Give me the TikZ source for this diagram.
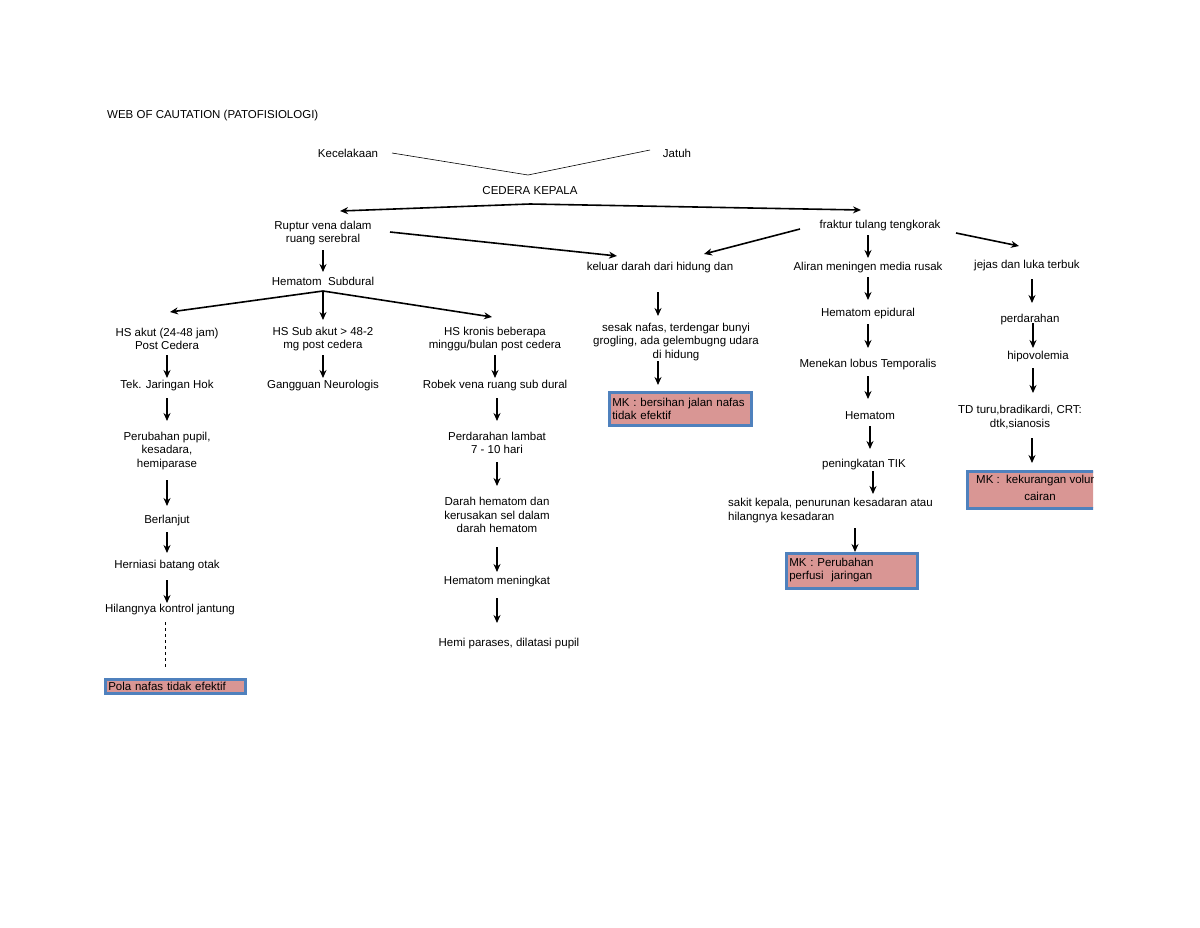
\documentclass[tikz,border=0pt]{standalone}
\usepackage{fontspec}
\setmainfont{Liberation Sans}
\usetikzlibrary{arrows.meta}
\begin{document}
\begin{tikzpicture}[x=1pt,y=-1pt,
 t/.style={font=\fontsize{11.5}{13.5}\selectfont,inner sep=1pt,align=center},
 arr/.style={line width=1.6pt,-{Stealth[length=8pt,width=7pt]}},
 mk/.style={draw=bd,line width=2.5pt,fill={rgb,255:red,217;green,150;blue,148},font=\fontsize{11.5}{12.5}\selectfont,align=left,inner sep=3pt,anchor=north west}]
\definecolor{bd}{RGB}{79,129,189}
\useasboundingbox (0,0) rectangle (1200,927);
\node[t,anchor=west] (title) at (106,116) {WEB OF CAUTATION (PATOFISIOLOGI)};
\node[t] (kec) at (348,153) {Kecelakaan};
\node[t] (jat) at (677,153) {Jatuh};
\coordinate (v) at (528,175);
\draw[line width=0.6pt] (392,153) -- (v) -- (650,150);
\node[t] (ck) at (530,191) {CEDERA KEPALA};
\coordinate (ckb) at (530,204);
\node[t] (rup) at (323,233) {Ruptur vena dalam\\ruang serebral};
\node[t] (fr) at (880,226) {fraktur tulang tengkorak};
\draw[arr] (ckb) -- (340,211);
\draw[arr] (ckb) -- (861,210);
\node[t] (kel) at (660,268) {keluar darah dari hidung dan};
\node[t] (ali) at (868,268) {Aliran meningen media rusak};
\node[t,anchor=west] (jej) at (973,266) {jejas dan luka terbuk};
\draw[arr] (390,232) -- (617,256);
\draw[arr] (800,229) -- (704,254);
\draw[arr] (956,233) -- (1019,246);
\draw[arr] (868,235) -- (868,258);
% subdural
\node[t] (hsd) at (323,281) {Hematom\ \ Subdural};
\draw[arr] (323,250) -- (323,272);
\node[t] (hs1) at (167,339) {HS akut (24-48 jam)\\Post Cedera};
\node[t] (hs2) at (323,339) {HS Sub akut > 48-2\\mg post cedera};
\node[t] (hs3) at (495,339) {HS kronis beberapa\\minggu/bulan post cedera};
\coordinate (hb) at (323,291);
\draw[arr] (hb) -- (170,312);
\draw[arr] (hb) -- (323,320);
\draw[arr] (hb) -- (492,317);
\node[t] (a1) at (167,386) {Tek. Jaringan Hok};
\node[t] (b1) at (323,386) {Gangguan Neurologis};
\node[t] (c1) at (495,386) {Robek vena ruang sub dural};
\draw[arr] (167,355) -- (167,378); \draw[arr] (323,355) -- (323,378); \draw[arr] (495,355) -- (495,378);
\node[t] (a2) at (167,451) {Perubahan pupil,\\kesadara,\\hemiparase};
\node[t] (a3) at (167,521) {Berlanjut};
\node[t] (a4) at (167,566) {Herniasi batang otak};
\node[t] (a5) at (170,610) {Hilangnya kontrol jantung};
\node[mk,minimum width=140pt,text width=134pt] (a6) at (104,678) {Pola nafas tidak efektif};
\draw[arr] (167,398) -- (167,421); \draw[arr] (167,480) -- (167,506);
\draw[arr] (167,532) -- (167,553); \draw[arr] (167,580) -- (167,603);
\draw[line width=0.6pt,dashed] (165,622) -- (165,668);
\node[t] (c2) at (497,443) {Perdarahan lambat\\7 - 10 hari};
\node[t] (c3) at (497,515) {Darah hematom dan\\kerusakan sel dalam\\darah hematom};
\node[t] (c4) at (497,582) {Hematom meningkat};
\node[t] (c5) at (509,644) {Hemi parases, dilatasi pupil};
\draw[arr] (497,398) -- (497,421); \draw[arr] (497,462) -- (497,486);
\draw[arr] (497,547) -- (497,572); \draw[arr] (497,598) -- (497,623);
% keluar darah
\node[t] (k1) at (676,342) {sesak nafas, terdengar bunyi\\grogling, ada gelembugng udara\\di hidung};
\node[mk,minimum width=142pt,minimum height=33pt,text width=136pt] (k2) at (608,391) {MK : bersihan jalan nafas\\tidak efektif};
\draw[arr] (658,292) -- (658,316);
\draw[arr] (658,361) -- (658,385);
% epidural
\node[t] (e1) at (868,314) {Hematom epidural};
\node[t] (e2) at (868,365) {Menekan lobus Temporalis};
\node[t] (e3) at (870,416) {Hematom};
\node[t] (e4) at (864,465) {peningkatan TIK};
\node[t,align=left,anchor=north west] (e5) at (727,497) {sakit kepala, penurunan kesadaran atau\\hilangnya kesadaran};
\node[mk,minimum width=131pt,minimum height=35pt,inner ysep=1pt,text depth=16pt,text width=125pt] (e6) at (785,552) {MK : Perubahan\\perfusi\ \ jaringan};
\draw[arr] (868,277) -- (868,300); \draw[arr] (868,324) -- (868,348);
\draw[arr] (868,376) -- (868,399); \draw[arr] (870,426) -- (870,449);
\draw[arr] (873,471) -- (873,494);
\draw[arr] (855,528) -- (855,552);
% right
\begin{scope}
\clip (940,240) rectangle (1093,520);
\node[t] (r1) at (1030,320) {perdarahan};
\node[t] (r2) at (1038,357) {hipovolemia};
\node[t] (r3) at (1020,417) {TD turu,bradikardi, CRT:\\dtk,sianosis};
\node[mk,minimum width=150pt,minimum height=37pt] (r4) at (966,470) {};
\node[t,anchor=west] (r4a) at (975,481) {MK :\ \ kekurangan volume};
\node[t] (r4b) at (1040,496) {cairan};
\end{scope}
\draw[arr] (1032,279) -- (1032,303);
\draw[arr] (1033,323) -- (1033,348);
\draw[arr] (1033,368) -- (1033,393);
\draw[arr] (1032,438) -- (1032,463);
\end{tikzpicture}
\end{document}
